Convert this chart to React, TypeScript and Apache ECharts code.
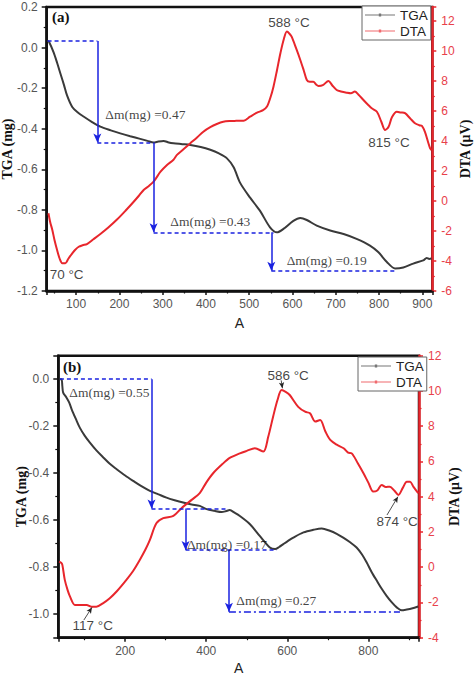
import React, { useEffect, useRef } from 'react';
import * as echarts from 'echarts';

// ---------- Panel (a) data ----------
const tgaA: [number, number][] = [
  [34, 0.033], [37, 0.03], [48, -0.024], [56, -0.075], [64, -0.13], [72, -0.185], [79, -0.236], [91, -0.293],
  [104, -0.32], [118, -0.341], [136, -0.366], [156, -0.39], [180, -0.408], [202, -0.423], [225, -0.437],
  [248, -0.45], [265, -0.46], [279, -0.468], [290, -0.463], [302, -0.46], [314, -0.468], [325, -0.472],
  [345, -0.476], [364, -0.48], [388, -0.49], [410, -0.504], [430, -0.522], [448, -0.545], [464, -0.59],
  [479, -0.667], [502, -0.74], [525, -0.805], [548, -0.886], [564, -0.911], [579, -0.894], [602, -0.854],
  [618, -0.84], [633, -0.85], [656, -0.878], [687, -0.902], [718, -0.919], [748, -0.943], [779, -0.976],
  [798, -1.008], [818, -1.057], [837, -1.089], [856, -1.084], [879, -1.065], [902, -1.049], [910, -1.037],
  [916, -1.042], [921, -1.04],
];
const dtaA: [number, number][] = [
  [36, -0.82], [40, -1.4], [45, -1.93], [50, -2.6], [56, -3.27], [62, -3.85], [68, -4.15], [75, -4.15],
  [82, -3.85], [91, -3.49], [98, -3.25], [106, -3.05], [115, -2.95], [125, -2.87], [140, -2.55], [156, -2.2],
  [175, -1.75], [195, -1.22], [214, -0.65], [233, -0.05], [245, 0.35], [256, 0.73], [268, 1.0], [279, 1.29],
  [295, 1.95], [310, 2.4], [325, 2.75], [333, 3.07], [348, 3.45], [364, 3.85], [380, 4.25], [394, 4.62],
  [410, 4.92], [425, 5.13], [440, 5.28], [456, 5.33], [470, 5.34], [487, 5.35], [502, 5.62], [518, 5.89],
  [532, 6.05], [541, 6.29], [549, 6.9], [556, 7.62], [564, 8.7], [572, 9.85], [580, 10.8], [587, 11.29],
  [593, 11.15], [598, 10.95], [608, 10.2], [618, 9.4], [626, 8.7], [633, 8.07], [640, 7.95], [648, 7.95],
  [655, 7.75], [660, 7.67], [670, 7.72], [683, 8.0], [692, 7.7], [702, 7.4], [712, 7.3], [725, 7.22],
  [735, 7.18], [744, 7.29], [752, 7.1], [764, 6.73], [775, 6.4], [783, 6.18], [795, 5.95], [805, 5.3],
  [814, 4.73], [822, 4.95], [830, 5.6], [841, 5.95], [850, 5.9], [860, 5.85], [872, 5.5], [883, 5.18],
  [893, 5.05], [899, 5.0], [906, 4.6], [913, 3.95], [918, 3.51], [921, 3.4],
];
// horizontal guide segments [x1, x2, y] and vertical arrows [x, yFrom, yTo] (TGA units)
const guideHA: [number, number, number][] = [[34, 149, 0.033], [149, 279, -0.468], [279, 556, -0.911], [551, 840, -1.1]];
const guideVA: [number, number, number][] = [[149, 0.033, -0.468], [279, -0.468, -0.911], [551, -0.911, -1.1]];
const massLabelsA: [number, number, string][] = [
  [260, -0.332, 'Δm(mg) =0.47'], [410, -0.859, 'Δm(mg) =0.43'], [679, -1.049, 'Δm(mg) =0.19'],
];
const tempLabelsA: [number, number, string][] = [
  [592, 11.87, '588 °C'], [823, 3.87, '815 °C'], [78, -4.93, '70 °C'],
];

// ---------- Panel (b) data ----------
const tgaB: [number, number][] = [
  [39, 0.0], [43, 0.0], [45, -0.03], [47, -0.057], [55, -0.078], [62, -0.1], [68, -0.128], [78, -0.168],
  [88, -0.206], [100, -0.24], [113, -0.27], [129, -0.303], [146, -0.333], [162, -0.36], [179, -0.383],
  [200, -0.41], [220, -0.433], [240, -0.455], [261, -0.475], [282, -0.49], [302, -0.504], [322, -0.515],
  [343, -0.525], [364, -0.533], [384, -0.539], [401, -0.553], [420, -0.56], [438, -0.565], [448, -0.562],
  [458, -0.557], [470, -0.568], [483, -0.582], [508, -0.617], [532, -0.667], [557, -0.716], [570, -0.723],
  [580, -0.714], [590, -0.702], [602, -0.688], [615, -0.674], [640, -0.652], [664, -0.641], [685, -0.635],
  [705, -0.645], [722, -0.658], [738, -0.674], [755, -0.694], [771, -0.716], [784, -0.745], [796, -0.78],
  [808, -0.82], [821, -0.858], [833, -0.892], [845, -0.922], [858, -0.95], [870, -0.971], [882, -0.983],
  [895, -0.98], [907, -0.976], [923, -0.967],
];
const dtaB: [number, number][] = [
  [37, 0.32], [42, 0.25], [45, 0.13], [51, -0.72], [58, -1.3], [64, -1.67], [76, -2.14], [90, -2.14],
  [105, -2.14], [117, -2.24], [129, -2.24], [145, -2.05], [162, -1.76], [180, -1.35], [203, -0.72],
  [220, -0.2], [236, 0.41], [250, 1.0], [261, 1.55], [277, 2.49], [294, 2.78], [319, 2.91], [339, 3.35],
  [364, 3.82], [384, 4.2], [400, 4.8], [417, 5.33], [440, 5.85], [458, 6.2], [483, 6.46], [500, 6.6],
  [520, 6.75], [541, 6.56], [553, 7.4], [565, 8.54], [576, 9.5], [586, 10.05], [596, 9.95], [606, 9.77],
  [627, 9.1], [644, 8.82], [656, 8.73], [669, 8.26], [681, 8.35], [694, 7.7], [706, 7.22], [722, 6.95],
  [739, 6.75], [750, 6.5], [759, 6.46], [774, 5.9], [788, 5.33], [800, 4.8], [812, 4.29], [822, 4.35],
  [833, 4.67], [843, 4.55], [853, 4.57], [864, 4.35], [874, 4.1], [885, 4.5], [895, 4.85], [903, 4.85],
  [911, 4.57], [923, 4.2],
];
const guideHB: [number, number, number][] = [[39, 265, 0.0], [265, 450, -0.55], [349, 574, -0.727], [456, 878, -0.99]];
const guideVB: [number, number, number][] = [[265, 0.0, -0.55], [349, -0.55, -0.727], [456, -0.727, -0.99]];
const massLabelsB: [number, number, string][] = [
  [161, -0.055, 'Δm(mg) =0.55'], [451, -0.702, 'Δm(mg) =0.17'], [573, -0.94, 'Δm(mg) =0.27'],
];
const tempLabelsB: [number, number, string][] = [
  [602, 10.9, '586 °C'], [871, 2.62, '874 °C'], [120, -3.33, '117 °C'],
];
// pointer arrows [xFrom, yFrom, xTo, yTo] (DTA units)
const pointersB: [number, number, number, number][] = [
  [585, 10.6, 588, 10.15], [846, 2.96, 873, 4.0], [98, -3.0, 118, -2.28],
];

// ---------- styles ----------
const SANS = 'Liberation Sans, Arial, sans-serif';
const SERIF = 'Liberation Serif, Times New Roman, serif';
const BLACK = '#111';
const TGA_C = '#3a3a3a';
const DTA_C = '#e8262c';
const BLUE = '#1a22e0';
const LEGEND_ICON = 'path://M0,1.1H30V1.9H0Z M13.8,0H16.2V3H13.8Z';

function guideLines(h: [number, number, number][], v: [number, number, number][], dashDotLast: boolean) {
  const out: any[] = [];
  h.forEach(([x1, x2, y], i) => {
    const type = dashDotLast && i === h.length - 1 ? [7, 3, 2, 3] : [4, 3];
    out.push([
      { coord: [x1, y], symbol: 'none', lineStyle: { color: BLUE, width: 1.5, type } },
      { coord: [x2, y], symbol: 'none' },
    ]);
  });
  v.forEach(([x, y1, y2]) => {
    out.push([
      { coord: [x, y1], symbol: 'none', lineStyle: { color: BLUE, width: 1.5, type: 'solid' } },
      { coord: [x, y2], symbol: 'arrow', symbolSize: [6, 9] },
    ]);
  });
  return out;
}

function pointerLines(p: [number, number, number, number][]) {
  return p.map(([x1, y1, x2, y2]) => [
    { coord: [x1, y1], symbol: 'none', lineStyle: { color: '#222', width: 0.8, type: 'solid' } },
    { coord: [x2, y2], symbol: 'arrow', symbolSize: [4, 6] },
  ]);
}

function textSeries(xi: number, yi: number, data: [number, number, string][], font: string, size: number) {
  return {
    type: 'scatter', xAxisIndex: xi, yAxisIndex: yi, silent: true, symbolSize: 1,
    itemStyle: { color: 'rgba(0,0,0,0)' },
    data,
    label: {
      show: true, position: 'inside', formatter: (p: any) => p.data[2],
      fontFamily: font, fontSize: size, color: '#111',
    },
    z: 5,
  };
}

function helperSeries(xi: number, yi: number, lines: any[]) {
  return {
    type: 'line', xAxisIndex: xi, yAxisIndex: yi, data: [], silent: true,
    markLine: { silent: true, symbol: ['none', 'none'], label: { show: false }, data: lines, animation: false },
    z: 4,
  };
}

const xFmt = (step: number) => (v: number) => (Math.abs(v / step - Math.round(v / step)) < 1e-6 ? String(Math.round(v)) : '');
const yLeftFmt = (v: number) => {
  const r = Math.round(v * 10);
  if (r % 2 !== 0) return '';
  if (Math.abs(v) < 1e-9) return '0.0';
  return v.toFixed(1);
};
const yRightFmt = (v: number) => {
  const r = Math.round(v * 1000) / 1000;
  if (!Number.isInteger(r) || r % 2 !== 0) return '';
  return String(r);
};

function xAxisDef(gi: number, min: number, max: number, split: number, step: number, gap: number) {
  return {
    gridIndex: gi, type: 'value', min, max, splitNumber: split,
    axisLine: { show: true, onZero: false, lineStyle: { color: BLACK, width: 2.5 } },
    axisTick: { show: true, length: 4, lineStyle: { color: BLACK, width: 1.5 } },
    minorTick: { show: true, splitNumber: 2, length: 2.5, lineStyle: { color: BLACK, width: 1.2 } },
    axisLabel: { formatter: xFmt(step), color: '#555', fontSize: 12, fontFamily: SANS, margin: 7 },
    splitLine: { show: false },
    name: 'A', nameLocation: 'middle', nameGap: gap, nameMoveOverlap: false,
    nameTextStyle: { fontSize: 14, color: '#222', fontFamily: SANS },
  };
}

function yLeftDef(gi: number, min: number, max: number, gap: number, extra: any) {
  return {
    gridIndex: gi, type: 'value', position: 'left', min, max, ...extra,
    axisLine: { show: true, onZero: false, lineStyle: { color: BLACK, width: 2.5 } },
    axisTick: { show: true, length: 5, lineStyle: { color: BLACK, width: 1.5 } },
    minorTick: { show: true, splitNumber: 2, length: 3, lineStyle: { color: BLACK, width: 1.2 } },
    axisLabel: { formatter: yLeftFmt, color: '#555', fontSize: 12, fontFamily: SANS, margin: 9 },
    splitLine: { show: false },
    name: 'TGA (mg)', nameLocation: 'middle', nameGap: gap, nameRotate: 90, nameMoveOverlap: false,
    nameTextStyle: { fontSize: 14, fontWeight: 'bold', color: '#111', fontFamily: SERIF },
  };
}

function yRightDef(gi: number, min: number, max: number, gap: number) {
  return {
    gridIndex: gi, type: 'value', position: 'right', min, max, interval: 2,
    axisLine: { show: true, onZero: false, lineStyle: { color: DTA_C, width: 2.5 } },
    axisTick: { show: true, length: 4, lineStyle: { color: DTA_C, width: 1.5 } },
    minorTick: { show: true, splitNumber: 2, length: 2.5, lineStyle: { color: DTA_C, width: 1.2 } },
    axisLabel: { formatter: yRightFmt, color: '#e8404a', fontSize: 12, fontFamily: SANS, margin: 9 },
    splitLine: { show: false },
    name: 'DTA (μV)', nameLocation: 'middle', nameGap: gap, nameRotate: 90, nameMoveOverlap: false,
    nameTextStyle: { fontSize: 14, fontWeight: 'bold', color: '#111', fontFamily: SERIF },
  };
}

function curve(name: string, xi: number, yi: number, data: [number, number][], color: string, z: number) {
  return {
    name, type: 'line', xAxisIndex: xi, yAxisIndex: yi, data, smooth: 0.3,
    symbol: 'circle', symbolSize: 3, showSymbol: false,
    lineStyle: { color, width: 2 }, itemStyle: { color }, z,
  };
}

function legendDef(left: number, top: number) {
  return {
    left, top, orient: 'vertical',
    data: [
      { name: 'TGA', icon: LEGEND_ICON, itemStyle: { color: '#777' } },
      { name: 'DTA', icon: LEGEND_ICON, itemStyle: { color: '#f06a6e' } },
    ],
    itemWidth: 30, itemHeight: 3, itemGap: 2, padding: [2, 3, 2, 3],
    borderColor: '#666', borderWidth: 1, backgroundColor: '#fff',
    textStyle: { fontSize: 13.5, color: '#222', fontFamily: SANS },
    selectedMode: false,
  };
}

export default function App() {
  const ref = useRef<HTMLDivElement>(null);
  useEffect(() => {
    const chart = echarts.init(ref.current!, null, { renderer: 'svg' });
    const option: any = {
      animation: false,
      backgroundColor: '#fff',
      grid: [
        { left: 46.7, top: 7, width: 385.6, height: 284, outerBoundsMode: 'none', containLabel: false, show: true, borderColor: BLACK, borderWidth: 2.5, backgroundColor: 'transparent' },
        { left: 58.3, top: 355.7, width: 360.7, height: 282, outerBoundsMode: 'none', containLabel: false, show: true, borderColor: BLACK, borderWidth: 2.5, backgroundColor: 'transparent' },
      ],
      xAxis: [xAxisDef(0, 32, 923, 9, 100, 25), xAxisDef(1, 35, 925, 4, 200, 23)],
      yAxis: [
        yLeftDef(0, -1.2, 0.2, 32, { interval: 0.2 }),
        yRightDef(0, -6, 12.93, 26),
        yLeftDef(1, -1.1, 0.1, 30, { splitNumber: 6 }),
        yRightDef(1, -4, 12, 28),
      ],
      legend: [legendDef(362, 6), legendDef(358, 357)],
      graphic: [
        { type: 'text', left: 52, top: 9, style: { text: '(a)', font: `bold 15px ${SERIF}`, fill: '#111' } },
        { type: 'text', left: 63, top: 359, style: { text: '(b)', font: `bold 15px ${SERIF}`, fill: '#111' } },
      ],
      series: [
        curve('TGA', 0, 0, tgaA, TGA_C, 2),
        curve('DTA', 0, 1, dtaA, DTA_C, 3),
        helperSeries(0, 0, guideLines(guideHA, guideVA, false)),
        textSeries(0, 0, massLabelsA, SERIF, 13.5),
        textSeries(0, 1, tempLabelsA, SANS, 13.5),
        curve('TGA', 1, 2, tgaB, TGA_C, 2),
        curve('DTA', 1, 3, dtaB, DTA_C, 3),
        helperSeries(1, 2, guideLines(guideHB, guideVB, true)),
        helperSeries(1, 3, pointerLines(pointersB)),
        textSeries(1, 2, massLabelsB, SERIF, 13.5),
        textSeries(1, 3, tempLabelsB, SANS, 13.5),
      ],
    };
    chart.setOption(option);
    return () => chart.dispose();
  }, []);
  return <div ref={ref} style={{ position: 'absolute', left: 0, top: 0, width: 474, height: 676 }} />;
}
